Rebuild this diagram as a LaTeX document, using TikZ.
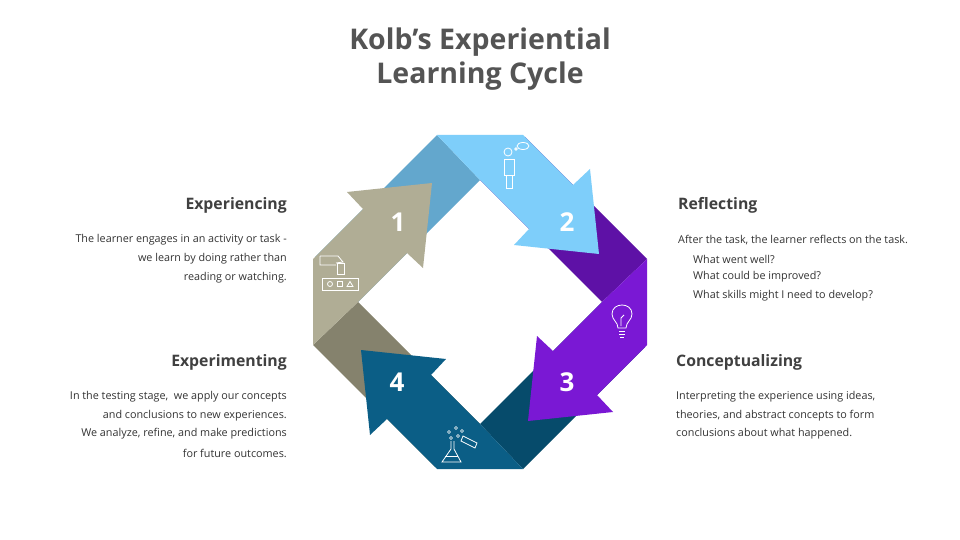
\documentclass[tikz,border=0pt]{standalone}
\usepackage{fontspec}
\setmainfont{Open Sans}
\begin{document}
\begin{tikzpicture}[x=1pt,y=-1pt,
  body/.style={font=\fontsize{10.8}{12}\selectfont, text=black!80, inner sep=0},
  head/.style={font=\fontsize{15.8}{18}\selectfont\bfseries, text=black!75, inner sep=0},
  num/.style={font=\fontsize{26}{28}\selectfont\bfseries, text=white},
  ico/.style={draw=white, line width=0.8pt, fill=none}]
\definecolor{tanL}{HTML}{B0AD95}\definecolor{tanD}{HTML}{85826D}
\definecolor{bluL}{HTML}{7ECEFA}\definecolor{bluD}{HTML}{63A7CD}
\definecolor{purL}{HTML}{7A18D4}\definecolor{purD}{HTML}{5E11A6}
\definecolor{tealL}{HTML}{0B5E86}\definecolor{tealD}{HTML}{064B6B}
\useasboundingbox (0,0) rectangle (960,540);
\fill[white] (0,0) rectangle (960,540);
\node[font=\fontsize{28.5}{34}\selectfont\bfseries, text=black!67, align=center] (title) at (480,59) {Kolb’s Experiential\\Learning Cycle};
\begin{scope}[shift={(480,302)}, yscale=-1]
 \foreach \d [count=\i from 0] in {tanD,bluD,purD,tealD}{
  \begin{scope}[rotate=90*\i]
   \fill[\d] (-122,0) -- (-167,-43) -- (-45,-165) -- (0,-122) -- cycle;
  \end{scope}}
 \foreach \l [count=\i from 0] in {tanL,bluL,purL,tealL}{
  \begin{scope}[rotate=90*\i]
   \fill[\l] (-167,-43) -- (-167,43) -- (-117,93) -- (-133,110) -- (-48,119) -- (-57,34) -- (-73,49) -- (-122,0) -- cycle;
  \end{scope}}
\end{scope}
\node[num] (n1) at (398,222) {1};
\node[num] (n2) at (567,222) {2};
\node[num] (n3) at (567,382) {3};
\node[num] (n4) at (397,382) {4};
% icon 1
\draw[ico] (320,256) -- (338,256) -- (343,262) -- (336,263) (320,256) -- (320,265) -- (336,265);
\draw[ico] (337,263) rectangle (344,274);
\draw[ico] (322,278) rectangle (358,290);
\draw[ico] (330,284) circle (2.5);
\draw[ico] (337.5,281.5) rectangle (342.5,286.5);
\draw[ico] (347,286.5) -- (350,281.5) -- (353,286.5) -- cycle;
% icon 2
\draw[ico] (508,152) circle (4);
\draw[ico] (504,159) rectangle (514,175) (506,175) -- (506,188) -- (512,188) -- (512,175);
\draw[ico] (516,149) circle (1.3);
\draw[ico] (523,146) ellipse (6 and 3.5);
% icon 3
\draw[ico] (618,328) .. controls (618,322) and (612,320) .. (612,314) .. controls (612,302) and (632,302) .. (632,314) .. controls (632,320) and (626,322) .. (626,328) -- cycle;
\draw[ico] (619,331) -- (625,331) (619,334) -- (625,334) (620,337) -- (624,337);
\draw[ico] (621,326) -- (621,318) -- (624,315);
% icon 4
\draw[ico] (451,441) -- (451,449) -- (442,462) -- (461,462) -- (454,449) -- (454,441);
\draw[ico] (445,456) -- (458,456);
\draw[ico] (463,436) -- (477,443) -- (475,448) -- (461,441) -- cycle;
\foreach \p in {(449,432),(456,428),(462,431),(451,438),(458,436)} \draw[ico, line width=0.6pt] \p circle (1.5);
% texts
\node[head, anchor=east] (h1) at (287,205) {Experiencing};
\node[body, anchor=east] (t1a) at (287,240) {The learner engages in an activity or task -};
\node[body, anchor=east] (t1b) at (287,259) {we learn by doing rather than};
\node[body, anchor=east] (t1c) at (287,278) {reading or watching.};
\node[head, anchor=east] (h4) at (287,362) {Experimenting};
\node[body, anchor=east] (t4a) at (287,397) {In the testing stage,\ \ we apply our concepts};
\node[body, anchor=east] (t4b) at (287,416) {and conclusions to new experiences.};
\node[body, anchor=east] (t4c) at (287,434) {We analyze, refine, and make predictions};
\node[body, anchor=east] (t4d) at (287,453) {for future outcomes.};
\node[head, anchor=west] (h2) at (678,205) {Reflecting};
\node[body, anchor=west] (t2a) at (678,240) {After the task, the learner reflects on the task.};
\node[body, anchor=west] (t2b) at (693,259) {What went well?};
\node[body, anchor=west] (t2c) at (693,277) {What could be improved?};
\node[body, anchor=west] (t2d) at (693,296) {What skills might I need to develop?};
\node[head, anchor=west] (h3) at (676,362) {Conceptualizing};
\node[body, anchor=west] (t3a) at (676,397) {Interpreting the experience using ideas,};
\node[body, anchor=west] (t3b) at (676,416) {theories, and abstract concepts to form};
\node[body, anchor=west] (t3c) at (676,434) {conclusions about what happened.};
\end{tikzpicture}
\end{document}
